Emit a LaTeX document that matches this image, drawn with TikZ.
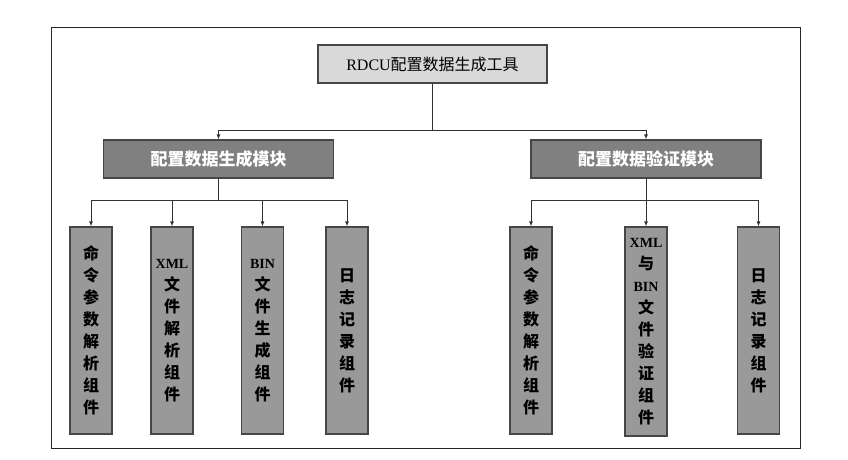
\documentclass[tikz,border=0pt]{standalone}
\usepackage{fontspec}
\setmainfont{Liberation Serif}
\newfontfamily\cjk{Noto Sans CJK SC}
\newfontfamily\latinfont{Liberation Serif}
\newcommand{\leaflatin}[1]{{\latinfont\bfseries\fontsize{14}{22}\selectfont #1}}
\usepackage{tikz}
\usetikzlibrary{arrows.meta, positioning, calc}
\definecolor{edgegray}{RGB}{70,70,70}
\definecolor{toolfill}{RGB}{217,217,217}
\definecolor{modfill}{RGB}{128,128,128}
\definecolor{leaffill}{RGB}{153,153,153}
\definecolor{linegray}{RGB}{50,50,50}
\tikzset{
  toolbox/.style={rectangle, draw=edgegray, fill=toolfill, line width=1.2pt, minimum width=229pt, minimum height=38pt, inner sep=0pt, font=\cjk\fontsize{16}{18}\selectfont},
  modbox/.style={rectangle, draw=edgegray, fill=modfill, line width=1.2pt, minimum width=230pt, minimum height=38pt, inner sep=0pt, text=white, font=\cjk\bfseries\fontsize{17}{19}\selectfont},
  leafbox/.style={rectangle, draw=edgegray, fill=leaffill, line width=1.2pt, text width=42pt, minimum height=207pt, inner sep=0pt, align=center, font=\cjk\bfseries\fontsize{16}{22}\selectfont},
  arrow/.style={-{Latex[length=5pt,width=4pt]}, line width=0.9pt, color=linegray},
  line/.style={line width=0.9pt, color=linegray}
}

\begin{document}
\begin{tikzpicture}[x=1pt, y=-1pt]
  % Frame
  \useasboundingbox (0,0) rectangle (848,460);
  \draw[line width=1pt, color=black!85] (51.5,28) rectangle (800,448);

  % Top level
  \node[toolbox] (tool) at (432.5,64) {{\latinfont RDCU}配置数据生成工具};

  % Modules
  \node[modbox] (gen) at (218.5,159) {配置数据生成模块};
  \node[modbox] (ver) at (646,159) {配置数据验证模块};

  % Components of the generation module
  \node[leafbox] (genA) at (91,330.5) {命\\令\\参\\数\\解\\析\\组\\件};
  \node[leafbox] (genB) at (172,330.5) {\leaflatin{XML}\\文\\件\\解\\析\\组\\件};
  \node[leafbox] (genC) at (262.5,330.5) {\leaflatin{BIN}\\文\\件\\生\\成\\组\\件};
  \node[leafbox] (genD) at (347,330.5) {日\\志\\记\\录\\组\\件};

  % Components of the verification module
  \node[leafbox] (verA) at (531,330.5) {命\\令\\参\\数\\解\\析\\组\\件};
  \node[leafbox, minimum height=209pt] (verB) at (646,331.5) {\leaflatin{XML}\\与\\\leaflatin{BIN}\\文\\件\\验\\证\\组\\件};
  \node[leafbox] (verC) at (758.5,330.5) {日\\志\\记\\录\\组\\件};

  % Connectors
  \coordinate (toolsplit) at ($(tool.south)+(0,47)$);
  \coordinate (gensplit) at ($(gen.south)+(0,22)$);
  \coordinate (versplit) at ($(ver.south)+(0,22)$);
  \draw[line] (tool.south) -- (toolsplit);
  \draw[arrow] (toolsplit) -| (gen.north);
  \draw[arrow] (toolsplit) -| (ver.north);

  \draw[line] (gen.south) -- (gensplit);
  \draw[arrow] (gensplit) -| (genA.north);
  \draw[arrow] (gensplit) -| (genB.north);
  \draw[arrow] (gensplit) -| (genC.north);
  \draw[arrow] (gensplit) -| (genD.north);

  \draw[line] (ver.south) -- (versplit);
  \draw[arrow] (versplit) -| (verA.north);
  \draw[arrow] (versplit) -- (verB.north);
  \draw[arrow] (versplit) -| (verC.north);
\end{tikzpicture}
\end{document}
